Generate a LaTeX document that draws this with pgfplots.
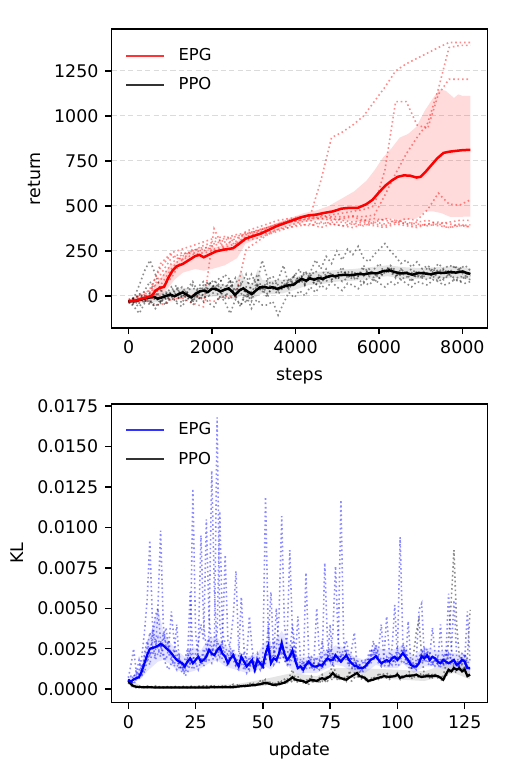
\documentclass[border=0pt]{standalone}
\usepackage{pgfplots}
\pgfplotsset{compat=1.18}
\usepackage{pgfplotstable}
\usepackage{fontspec}
\setmainfont{DejaVu Sans}

\newcommand{\lblfont}{\fontsize{8.7}{10.4}\selectfont}
\newcommand{\legfont}{\fontsize{8.2}{9.8}\selectfont}

% ---------- top: return, EPG seeds ----------
\pgfplotstableread{
x r1 r2 r3 r4 r5 r6 r7 r8
0 -30 -40 -20 -30 -30 -30 -20 -40
256 -15 -20 0 10 -10 -20 0 -30
512 10 40 -30 30 -40 -10 20 0
768 120 160 60 90 -50 0 180 40
1024 210 230 150 180 -20 -20 240 100
1280 240 200 220 230 -10 -10 260 200
1536 235 260 250 250 -40 10 280 230
1792 260 250 280 270 -60 -20 300 240
2048 290 280 300 260 374 -30 320 250
2304 310 300 320 280 250 0 330 270
2560 330 290 340 320 270 -5 300 290
2816 345 330 350 340 320 260 360 310
3072 365 350 360 360 340 300 380 320
3328 380 370 380 380 350 340 400 340
3584 400 390 400 400 370 360 420 370
3840 420 410 410 420 380 380 430 390
4096 440 420 420 430 400 390 440 410
4352 445 430 430 440 390 400 440 420
4608 640 440 430 430 410 380 450 400
4864 880 450 440 420 400 400 430 410
5120 910 460 440 430 390 390 420 410
5376 950 470 445 440 400 380 410 400
5632 1000 480 440 420 410 400 420 390
5888 1080 500 450 430 400 390 410 410
6144 1160 700 560 420 390 380 430 400
6400 1250 1080 680 410 410 400 420 420
6656 1290 1080 790 430 400 390 400 410
6912 1320 950 880 420 390 380 410 400
7168 1350 930 960 480 400 400 420 390
7424 1380 1120 1150 571 410 390 400 400
7680 1408 1204 1380 510 400 380 410 380
7936 1408 1204 1392 505 390 400 420 390
8192 1408 1204 1392 534 385 380 420 395
}\redseeds

% ---------- top: return, PPO seeds ----------
\pgfplotstableread{
x g1 g2 g3 g4 g5 g6
0 -30 -30 -30 -30 -30 -30
128 -10 -50 -60 -20 -40 -10
256 60 -20 -97 10 -60 -40
384 140 30 -40 -30 -20 0
512 198 80 -20 20 -50 -30
640 120 20 -70 -10 -10 -60
768 40 -30 -30 30 -40 -20
896 -20 10 -50 -20 20 -40
1024 30 50 0 0 -10 -10
1152 60 0 -40 40 -30 20
1280 -10 -40 -60 -10 30 50
1408 40 20 -10 20 0 10
1536 80 60 -50 -30 -40 -20
1664 20 -20 -20 10 50 30
1792 -30 10 10 50 80 60
1920 60 80 -40 0 30 80
2048 90 50 -60 20 60 40
2176 30 -10 0 60 100 70
2304 -20 40 -30 10 40 120
2432 50 90 -98 -20 80 90
2560 100 0 -20 30 30 -10
2688 20 -60 -50 70 60 40
2816 -40 50 10 20 120 20
2944 60 120 -70 -10 20 -30
3072 110 60 -20 40 70 60
3200 40 198 -50 60 30 20
3328 -10 100 -50 10 90 70
3456 70 40 -30 50 110 40
3584 30 90 -107 30 60 10
3712 90 170 -40 70 40 50
3840 40 60 20 40 90 80
3968 110 120 -10 80 60 110
4096 150 80 30 100 80 90
4224 60 140 0 60 130 70
4352 130 100 50 120 110 100
4480 200 60 20 90 140 60
4608 150 110 60 70 100 90
4736 220 150 40 110 120 80
4864 180 90 80 130 90 120
4992 250 120 50 90 110 100
5120 200 160 30 120 80 140
5248 260 100 70 140 100 120
5376 230 140 60 100 130 90
5504 276 110 40 130 90 110
5632 210 170 80 110 70 150
5760 190 120 60 150 110 130
5888 230 150 90 120 80 100
6016 260 180 70 100 100 120
6144 291 120 50 140 140 140
6272 250 160 80 130 160 170
6400 220 100 60 110 120 140
6528 180 150 90 150 90 110
6656 200 120 70 120 110 130
6784 160 90 50 130 80 150
6912 190 140 80 100 120 120
7040 150 110 70 140 100 100
7168 170 160 60 120 90 130
7296 140 130 90 110 110 150
7424 180 100 80 150 80 110
7552 150 150 60 130 100 90
7680 170 120 70 140 120 120
7808 160 170 90 120 90 100
7936 150 140 80 160 110 80
8064 170 110 70 130 100 110
8192 140 130 80 110 90 100
}\grayseeds

% ---------- bottom: KL ----------
\pgfplotstableread{
u b1 b2 b3 b4 b5 k1 k2 k3 mb mk
0 0.0006 0.0005 0.0007 0.0004 0.0006 0.0005 0.0006 0.0004 0.00058 0.0005
1 0.0004 0.0008 0.0015 0.0003 0.0005 0.0003 0.0004 0.0002 0.00047 0.0003
2 0.0009 0.0006 0.0025 0.0005 0.0003 0.0002 0.0002 0.0001 0.0006 0.00018
3 0.0005 0.0012 0.0010 0.0008 0.0006 0.0001 0.0002 0.0001 0.00068 0.00015
4 0.0012 0.0007 0.0018 0.0006 0.0009 0.0001 0.0001 0.0002 0.00074 0.00013
5 0.0020 0.0015 0.0010 0.0012 0.0008 0.0002 0.0001 0.0001 0.0011 0.00012
6 0.0035 0.0010 0.0022 0.0018 0.0014 0.0001 0.0002 0.0001 0.0016 0.00011
7 0.0055 0.0018 0.0030 0.0025 0.0020 0.0001 0.0001 0.0002 0.0021 0.00011
8 0.0092 0.0022 0.0020 0.0035 0.0015 0.0002 0.0001 0.0001 0.0025 0.00011
9 0.0040 0.0030 0.0035 0.0028 0.0025 0.0001 0.0002 0.0001 0.00254 0.00011
10 0.0030 0.0045 0.0028 0.0020 0.0018 0.0001 0.0001 0.0002 0.0026 0.0001
11 0.0025 0.0050 0.0032 0.0050 0.0022 0.0002 0.0001 0.0001 0.00268 0.0001
12 0.0020 0.0098 0.0025 0.0030 0.0028 0.0001 0.0002 0.0001 0.0028 0.0001
13 0.0035 0.0040 0.0030 0.0022 0.0020 0.0001 0.0001 0.0001 0.0027 0.0001
14 0.0028 0.0025 0.0038 0.0018 0.0015 0.0002 0.0001 0.0002 0.00254 0.0001
15 0.0022 0.0030 0.0025 0.0025 0.0012 0.0001 0.0002 0.0001 0.0024 0.0001
16 0.0018 0.0020 0.0048 0.0020 0.0016 0.0001 0.0001 0.0001 0.00223 0.0001
17 0.0015 0.0025 0.0030 0.0015 0.0022 0.0002 0.0001 0.0002 0.0020 0.0001
18 0.0020 0.0018 0.0022 0.0012 0.0040 0.0001 0.0002 0.0001 0.0018 0.0001
19 0.0012 0.0015 0.0018 0.0020 0.0015 0.0001 0.0001 0.0001 0.0017 0.0001
20 0.0016 0.0012 0.0015 0.0014 0.0010 0.0002 0.0001 0.0002 0.0016 0.0001
21 0.0010 0.0018 0.0012 0.0008 0.0014 0.0001 0.0002 0.0001 0.0014 0.0001
22 0.0014 0.0025 0.0020 0.0010 0.0018 0.0001 0.0001 0.0001 0.0017 0.0001
23 0.0020 0.0015 0.0025 0.0016 0.0060 0.0002 0.0001 0.0002 0.0019 0.0001
24 0.0124 0.0018 0.0015 0.0012 0.0020 0.0001 0.0002 0.0001 0.0016 0.0001
25 0.0035 0.0022 0.0018 0.0015 0.0016 0.0001 0.0001 0.0001 0.0018 0.0001
26 0.0020 0.0028 0.0022 0.0025 0.0012 0.0002 0.0001 0.0002 0.0020 0.0001
27 0.0015 0.0040 0.0018 0.0095 0.0018 0.0001 0.0002 0.0001 0.0017 0.0001
28 0.0022 0.0030 0.0025 0.0040 0.0014 0.0001 0.0001 0.0002 0.0018 0.0001
29 0.0018 0.0105 0.0020 0.0025 0.0020 0.0002 0.0001 0.0001 0.0020 0.0001
30 0.0025 0.0045 0.0035 0.0030 0.0018 0.0001 0.0002 0.0001 0.00243 0.0001
31 0.0020 0.0025 0.0135 0.0022 0.0016 0.0002 0.0001 0.0002 0.0022 0.00012
32 0.0030 0.0020 0.0060 0.0028 0.0022 0.0001 0.0002 0.0001 0.0021 0.00012
33 0.0168 0.0030 0.0025 0.0035 0.0018 0.0001 0.0001 0.0002 0.0024 0.00012
34 0.0040 0.0025 0.0020 0.0110 0.0024 0.0002 0.0002 0.0001 0.0026 0.00012
35 0.0025 0.0030 0.0028 0.0035 0.0018 0.0001 0.0001 0.0002 0.0022 0.00012
36 0.0020 0.0083 0.0022 0.0028 0.0016 0.0002 0.0002 0.0001 0.0020 0.00012
37 0.0015 0.0030 0.0018 0.0020 0.0014 0.0001 0.0001 0.0002 0.0016 0.00012
38 0.0022 0.0025 0.0030 0.0018 0.0020 0.0002 0.0002 0.0001 0.0019 0.00012
39 0.0018 0.0020 0.0045 0.0022 0.0025 0.0001 0.0003 0.0002 0.0021 0.00012
40 0.0014 0.0018 0.0073 0.0015 0.0018 0.0002 0.0001 0.0002 0.0017 0.00015
41 0.0012 0.0015 0.0025 0.0020 0.0014 0.0003 0.0002 0.0001 0.0014 0.00016
42 0.0020 0.0022 0.0018 0.0057 0.0016 0.0002 0.0003 0.0002 0.0020 0.00018
43 0.0015 0.0018 0.0022 0.0025 0.0012 0.0001 0.0002 0.0003 0.0017 0.00019
44 0.0010 0.0015 0.0018 0.0016 0.0020 0.0003 0.0002 0.0002 0.0014 0.0002
45 0.0014 0.0020 0.0015 0.0012 0.0045 0.0002 0.0004 0.0002 0.0016 0.00022
46 0.0018 0.0016 0.0020 0.0018 0.0025 0.0003 0.0002 0.0003 0.0018 0.00024
47 0.0010 0.0012 0.0014 0.0010 0.0015 0.0002 0.0003 0.0004 0.0012 0.00025
48 0.0016 0.0018 0.0020 0.0022 0.0018 0.0004 0.0003 0.0002 0.0018 0.00028
49 0.0012 0.0015 0.0016 0.0018 0.0014 0.0003 0.0005 0.0003 0.0016 0.0003
50 0.0020 0.0012 0.0014 0.0015 0.0012 0.0004 0.0003 0.0005 0.0014 0.00035
51 0.0119 0.0018 0.0020 0.0022 0.0016 0.0006 0.0004 0.0003 0.0022 0.0004
52 0.0035 0.0040 0.0022 0.0028 0.0030 0.0004 0.0003 0.0004 0.00268 0.00035
53 0.0020 0.0018 0.0025 0.0016 0.0060 0.0003 0.0005 0.0002 0.0016 0.0003
54 0.0015 0.0022 0.0030 0.0020 0.0022 0.0002 0.0003 0.0004 0.0019 0.00025
55 0.0018 0.0025 0.0016 0.0050 0.0018 0.0004 0.0002 0.0003 0.0018 0.00028
56 0.0022 0.0045 0.0020 0.0025 0.0016 0.0003 0.0004 0.0005 0.0022 0.0003
57 0.0025 0.0107 0.0028 0.0030 0.0022 0.0005 0.0003 0.0004 0.00285 0.00035
58 0.0018 0.0040 0.0022 0.0020 0.0018 0.0004 0.0006 0.0003 0.0022 0.0004
59 0.0015 0.0025 0.0030 0.0018 0.0016 0.0006 0.0004 0.0005 0.0018 0.0005
60 0.0020 0.0018 0.0086 0.0022 0.0014 0.0008 0.0005 0.0006 0.0020 0.0006
61 0.0030 0.0022 0.0035 0.0040 0.0020 0.0012 0.0007 0.0004 0.0024 0.00074
62 0.0018 0.0020 0.0022 0.0025 0.0016 0.0007 0.0005 0.0006 0.0018 0.0006
63 0.0012 0.0015 0.0018 0.0014 0.0045 0.0005 0.0008 0.0004 0.0013 0.00055
64 0.0014 0.0012 0.0016 0.0015 0.0018 0.0006 0.0004 0.0005 0.0014 0.00052
65 0.0010 0.0014 0.0012 0.0018 0.0014 0.0004 0.0006 0.0005 0.0012 0.0005
66 0.0072 0.0016 0.0015 0.0012 0.0016 0.0005 0.0003 0.0004 0.0015 0.0004
67 0.0022 0.0020 0.0018 0.0016 0.0014 0.0007 0.0005 0.0003 0.0017 0.0005
68 0.0015 0.0018 0.0014 0.0020 0.0012 0.0006 0.0008 0.0004 0.0015 0.00058
69 0.0012 0.0015 0.0016 0.0018 0.0016 0.0004 0.0005 0.0006 0.0014 0.00055
70 0.0014 0.0012 0.0020 0.0050 0.0014 0.0005 0.0006 0.0004 0.0014 0.0005
71 0.0016 0.0018 0.0014 0.0022 0.0012 0.0007 0.0004 0.0005 0.0015 0.0006
72 0.0012 0.0015 0.0030 0.0018 0.0016 0.0009 0.0006 0.0005 0.00145 0.00068
73 0.0018 0.0078 0.0020 0.0015 0.0014 0.0006 0.0008 0.0004 0.0017 0.0006
74 0.0022 0.0030 0.0025 0.0020 0.0018 0.0008 0.0005 0.0007 0.0019 0.0007
75 0.0016 0.0020 0.0018 0.0025 0.0040 0.0010 0.0007 0.0006 0.0018 0.0008
76 0.0020 0.0018 0.0035 0.0022 0.0016 0.0016 0.0008 0.0006 0.0018 0.0010
77 0.0018 0.0022 0.0076 0.0020 0.0018 0.0010 0.0006 0.0008 0.0021 0.0008
78 0.0025 0.0018 0.0030 0.0016 0.0020 0.0007 0.0009 0.0005 0.0019 0.00075
79 0.0117 0.0020 0.0018 0.0022 0.0016 0.0006 0.0007 0.0007 0.0017 0.00068
80 0.0030 0.0025 0.0022 0.0018 0.0020 0.0008 0.0005 0.0006 0.0019 0.00062
81 0.0020 0.0030 0.0025 0.0022 0.0018 0.0005 0.0007 0.0006 0.0021 0.00058
82 0.0016 0.0022 0.0020 0.0015 0.0014 0.0009 0.0010 0.0006 0.0018 0.0007
83 0.0014 0.0018 0.0016 0.0020 0.0025 0.0012 0.0008 0.0005 0.0016 0.0008
84 0.0012 0.0015 0.0014 0.0018 0.0035 0.0018 0.0010 0.0007 0.00145 0.0009
85 0.0014 0.0016 0.0018 0.0012 0.0014 0.0014 0.0009 0.0008 0.0014 0.0010
86 0.0012 0.0014 0.0015 0.0016 0.0012 0.0010 0.0007 0.0007 0.0013 0.0008
87 0.0010 0.0012 0.0014 0.0018 0.0016 0.0008 0.0006 0.0007 0.0013 0.00075
88 0.0015 0.0014 0.0012 0.0016 0.0018 0.0006 0.0008 0.0006 0.0014 0.00068
89 0.0018 0.0016 0.0020 0.0014 0.0015 0.0005 0.0006 0.0004 0.0016 0.0005
90 0.0020 0.0022 0.0025 0.0018 0.0016 0.0007 0.0005 0.0006 0.0018 0.00055
91 0.0022 0.0025 0.0020 0.0030 0.0018 0.0006 0.0007 0.0005 0.0019 0.00058
92 0.0025 0.0020 0.0028 0.0022 0.0020 0.0008 0.0006 0.0007 0.00204 0.00065
93 0.0018 0.0016 0.0022 0.0020 0.0025 0.0009 0.0008 0.0006 0.0018 0.0007
94 0.0015 0.0014 0.0018 0.0016 0.0040 0.0007 0.0010 0.0007 0.0016 0.00075
95 0.0016 0.0020 0.0016 0.0014 0.0018 0.0008 0.0009 0.0008 0.0017 0.0008
96 0.0018 0.0045 0.0020 0.0016 0.0015 0.0010 0.0007 0.0007 0.0018 0.00078
97 0.0015 0.0022 0.0018 0.0020 0.0014 0.0008 0.0008 0.0006 0.0017 0.00075
98 0.0020 0.0018 0.0015 0.0025 0.0022 0.0009 0.0007 0.0008 0.0019 0.00078
99 0.0018 0.0016 0.0020 0.0052 0.0016 0.0008 0.0009 0.0007 0.0020 0.0008
100 0.0022 0.0020 0.0025 0.0018 0.0014 0.0010 0.0008 0.0009 0.0018 0.0009
101 0.0094 0.0022 0.0018 0.0020 0.0016 0.0007 0.0006 0.0008 0.0020 0.0007
102 0.0030 0.0025 0.0022 0.0028 0.0018 0.0008 0.0009 0.0007 0.00223 0.00075
103 0.0020 0.0018 0.0025 0.0020 0.0015 0.0009 0.0007 0.0008 0.0020 0.0008
104 0.0016 0.0014 0.0018 0.0016 0.0042 0.0008 0.0010 0.0009 0.0018 0.00082
105 0.0014 0.0012 0.0015 0.0018 0.0016 0.0010 0.0012 0.0006 0.0015 0.00083
106 0.0012 0.0015 0.0014 0.0016 0.0014 0.0007 0.0022 0.0008 0.0014 0.00085
107 0.0015 0.0018 0.0016 0.0014 0.0012 0.0009 0.0035 0.0009 0.0014 0.0009
108 0.0018 0.0049 0.0020 0.0016 0.0018 0.0008 0.0043 0.0007 0.0016 0.0008
109 0.0020 0.0053 0.0022 0.0025 0.0016 0.0010 0.0020 0.0008 0.00204 0.00075
110 0.0022 0.0020 0.0025 0.0018 0.0020 0.0008 0.0009 0.0007 0.0019 0.00078
111 0.0018 0.0025 0.0022 0.0020 0.0016 0.0009 0.0008 0.0009 0.0021 0.0008
112 0.0016 0.0018 0.0020 0.0022 0.0015 0.0007 0.0010 0.0008 0.0018 0.0008
113 0.0014 0.0016 0.0038 0.0020 0.0018 0.0009 0.0008 0.0007 0.0020 0.0008
114 0.0018 0.0020 0.0022 0.0016 0.0014 0.0008 0.0009 0.0009 0.0019 0.00082
115 0.0016 0.0014 0.0018 0.0020 0.0015 0.0009 0.0007 0.0008 0.0017 0.0008
116 0.0014 0.0015 0.0016 0.0018 0.0040 0.0007 0.0008 0.0006 0.0016 0.0007
117 0.0015 0.0018 0.0020 0.0016 0.0014 0.0008 0.0006 0.0005 0.0018 0.00058
118 0.0020 0.0016 0.0022 0.0025 0.0018 0.0015 0.0010 0.0008 0.0017 0.0009
119 0.0059 0.0022 0.0018 0.0020 0.0015 0.0030 0.0012 0.0010 0.0016 0.0012
120 0.0025 0.0018 0.0020 0.0022 0.0016 0.0055 0.0011 0.0012 0.0017 0.0011
121 0.0018 0.0016 0.0015 0.0055 0.0014 0.0086 0.0014 0.0010 0.0018 0.0013
122 0.0014 0.0015 0.0018 0.0020 0.0012 0.0040 0.0012 0.0011 0.0015 0.0012
123 0.0016 0.0018 0.0014 0.0016 0.0015 0.0020 0.0014 0.0012 0.0016 0.0013
124 0.0020 0.0022 0.0016 0.0018 0.0020 0.0015 0.0010 0.0013 0.0018 0.0011
125 0.0015 0.0020 0.0018 0.0022 0.0016 0.0012 0.0014 0.0011 0.0017 0.0012
126 0.0012 0.0014 0.0048 0.0016 0.0014 0.0020 0.0008 0.0009 0.0013 0.0008
127 0.0014 0.0012 0.0016 0.0018 0.0012 0.0049 0.0010 0.0008 0.0013 0.0009
}\kltable

\pgfplotsset{
  base/.style={
    scale only axis, width=188pt, height=149.4pt,
    axis line style={line width=0.7pt, black},
    tick pos=left, tick align=outside, major tick length=3pt,
    major tick style={line width=0.7pt, black},
    tick label style={font=\lblfont},
    label style={font=\lblfont},
    /pgf/number format/assume math mode=true,
    legend style={draw=none, fill=none, font=\legfont,
      at={(axis description cs:0.037,0.937)}, anchor=north west,
      row sep=7pt, inner sep=0pt, outer sep=0pt,
      nodes={inner sep=0pt}},
    legend cell align=left,
    legend image code/.code={\draw[##1] (0pt,0pt) -- (19pt,0pt); \path (25.6pt,0pt);},
  },
  rseed/.style={red, opacity=0.45, line width=0.8pt, dash pattern=on 0.8pt off 1.4pt, forget plot},
  gseed/.style={black, opacity=0.45, line width=0.8pt, dash pattern=on 0.8pt off 1.4pt, forget plot},
  bseed/.style={blue, opacity=0.45, line width=0.8pt, dash pattern=on 0.8pt off 1.4pt, forget plot},
}

\begin{document}
\begin{tikzpicture}
\path[use as bounding box] (0,0) rectangle (263pt,391.5pt);

% ================= TOP =================
\begin{axis}[base,
  at={(55.75pt,227.5pt)}, anchor=south west,
  xmin=-410, xmax=8602, ymin=-178, ymax=1482,
  xtick={0,2000,4000,6000,8000},
  ytick={0,250,500,750,1000,1250},
  /pgf/number format/set thousands separator={},
  ymajorgrids,
  grid style={dash pattern=on 2.6pt off 1.6pt, line width=0.5pt, black!14},
  xlabel={steps}, ylabel={return},
]
\addlegendimage{red, line width=1pt, opacity=0.8}
\addlegendentry{EPG}
\addlegendimage{black, line width=1pt, opacity=0.8}
\addlegendentry{PPO}

\foreach \c in {r1,r2,r3,r4,r5,r6,r7,r8}{
  \addplot[rseed] table[x=x, y=\c] {\redseeds};
}
\foreach \c in {g1,g2,g3,g4,g5,g6}{
  \addplot[gseed] table[x=x, y=\c] {\grayseeds};
}

% red band
\addplot[fill=red, fill opacity=0.14, draw=none, forget plot] coordinates {
(0,-20) (500,10) (700,80) (1000,170) (1300,215) (1600,250) (1800,250) (2000,270)
(2300,280) (2600,300) (2800,345) (3000,360) (3300,385) (3600,410) (3900,435)
(4200,460) (4500,475) (4800,500) (5100,540) (5400,580) (5700,640) (5900,700)
(6100,770) (6300,820) (6500,880) (6700,900) (6900,940) (7100,1030) (7300,1100)
(7450,1148) (7600,1140) (7800,1100) (7900,1120) (8000,1112) (8192,1112)
(8192,441) (8000,440) (7700,440) (7500,460) (7300,470) (7100,470) (6900,430)
(6600,420) (6300,430) (6000,420) (5700,410) (5400,415) (5100,420) (4800,420)
(4500,420) (4200,410) (3900,395) (3600,370) (3300,340) (3000,310) (2800,290)
(2600,210) (2300,170) (2000,150) (1800,140) (1600,150) (1300,130) (1100,90)
(900,30) (700,-10) (500,-25) (0,-40)
};
% gray band
\addplot[fill=black, fill opacity=0.1, draw=none, forget plot] coordinates {
(0,-20) (400,5) (700,15) (1000,30) (1300,45) (1600,40) (1900,60) (2200,65)
(2500,55) (2700,140) (2800,90) (2950,60) (3100,150) (3200,90) (3400,85)
(3700,90) (4000,105) (4300,130) (4600,135) (5000,145) (5400,150) (5800,160)
(6200,170) (6600,160) (7000,155) (7400,160) (7800,165) (8192,155)
(8192,90) (7800,100) (7400,95) (7000,95) (6600,95) (6200,110) (5800,95)
(5400,85) (5000,80) (4600,65) (4300,60) (4000,35) (3700,15) (3400,10)
(3200,15) (2950,-20) (2700,0) (2500,-20) (2200,0) (1900,-5) (1600,-25)
(1300,-10) (1000,-15) (700,-35) (400,-35) (0,-40)
};

% PPO mean
\addplot[black, line width=1.25pt, forget plot] coordinates {
(0,-30) (150,-28) (300,-20) (450,-10) (600,-5) (700,-15) (800,-8) (900,0)
(1000,8) (1100,-2) (1200,10) (1300,20) (1400,5) (1500,-8) (1600,10) (1700,25)
(1800,30) (1900,22) (2000,40) (2100,38) (2200,25) (2300,35) (2400,42) (2500,20)
(2550,5) (2650,30) (2750,42) (2850,25) (2950,10) (3050,30) (3150,48) (3250,50)
(3350,45) (3450,48) (3550,40) (3650,45) (3750,55) (3850,60) (3950,62) (4050,80)
(4150,95) (4250,85) (4350,98) (4450,90) (4550,100) (4650,95) (4750,105)
(4850,112) (4950,110) (5050,115) (5200,118) (5350,115) (5500,122) (5650,120)
(5800,128) (5950,125) (6100,138) (6250,142) (6350,135) (6500,125) (6650,128)
(6800,118) (6950,128) (7100,125) (7250,120) (7400,130) (7550,128) (7700,132)
(7850,130) (8000,136) (8100,128) (8192,122)
};
% EPG mean
\addplot[red, line width=1.25pt, forget plot] coordinates {
(0,-30) (200,-25) (400,-10) (550,0) (650,30) (750,45) (850,50) (950,100)
(1050,140) (1150,165) (1300,178) (1450,200) (1600,222) (1700,228) (1800,215)
(1950,232) (2100,248) (2300,258) (2500,265) (2650,290) (2800,318) (2950,330)
(3150,345) (3350,366) (3550,388) (3750,405) (3950,422) (4150,438) (4300,447)
(4500,452) (4700,462) (4900,470) (5100,485) (5300,490) (5500,490) (5700,510)
(5850,535) (6000,575) (6150,612) (6300,640) (6450,662) (6600,670) (6750,668)
(6900,658) (7000,662) (7100,685) (7250,725) (7400,765) (7550,795) (7700,802)
(7850,806) (8000,810) (8192,812)
};
\end{axis}

% ================= BOTTOM =================
\begin{axis}[base,
  at={(55.6pt,40.15pt)}, anchor=south west,
  xmin=-6.35, xmax=133.35, ymin=-0.00084, ymax=0.01764,
  xtick={0,25,50,75,100,125},
  ytick={0,0.0025,0.005,0.0075,0.01,0.0125,0.015,0.0175},
  scaled y ticks=false,
  yticklabel style={/pgf/number format/.cd, fixed, fixed zerofill, precision=4},
  xlabel={update}, ylabel={KL},
]
\addlegendimage{blue, line width=1pt, opacity=0.8}
\addlegendentry{EPG}
\addlegendimage{black, line width=1pt, opacity=0.8}
\addlegendentry{PPO}

\foreach \c in {k1,k2,k3}{
  \addplot[gseed] table[x=u, y=\c] {\kltable};
}
\foreach \c in {b1,b2,b3,b4,b5}{
  \addplot[bseed] table[x=u, y=\c] {\kltable};
}

% blue band
\addplot[fill=blue, fill opacity=0.1, draw=none, forget plot] coordinates {
(0,0.0007) (3,0.0009) (5,0.0016) (7,0.0030) (9,0.0038) (11,0.0050) (13,0.0036)
(15,0.0030) (18,0.0024) (21,0.0020) (24,0.0026) (27,0.0024) (30,0.0032)
(33,0.0032) (36,0.0027) (40,0.0022) (44,0.0020) (48,0.0022) (51,0.0030)
(53,0.0026) (57,0.0036) (60,0.0028) (63,0.0020) (66,0.0020) (70,0.0020)
(74,0.0024) (77,0.0027) (80,0.0026) (84,0.0020) (88,0.0018) (92,0.0026)
(96,0.0024) (100,0.0025) (102,0.0028) (106,0.0020) (110,0.0026) (114,0.0024)
(118,0.0023) (122,0.0022) (125,0.0022) (127,0.0018)
(127,0.0009) (125,0.0012) (122,0.0011) (118,0.0012) (114,0.0014) (110,0.0014)
(106,0.0010) (102,0.0016) (100,0.0013) (96,0.0013) (92,0.0015) (88,0.0010)
(84,0.0010) (80,0.0014) (77,0.0015) (74,0.0013) (70,0.0010) (66,0.0010)
(63,0.0009) (60,0.0013) (57,0.0020) (53,0.0012) (51,0.0014) (48,0.0012)
(44,0.0010) (40,0.0012) (36,0.0014) (33,0.0018) (30,0.0016) (27,0.0013)
(24,0.0011) (21,0.0010) (18,0.0012) (15,0.0016) (13,0.0018) (11,0.0017)
(9,0.0014) (7,0.0011) (5,0.0007) (3,0.0005) (0,0.0005)
};
% gray band
\addplot[fill=black, fill opacity=0.1, draw=none, forget plot] coordinates {
(0,0.0006) (5,0.0002) (20,0.0002) (40,0.0003) (50,0.0006) (61,0.0010)
(70,0.0008) (76,0.0013) (85,0.0013) (100,0.0012) (110,0.0011) (119,0.0016)
(121,0.0017) (127,0.0013)
(127,0.0006) (121,0.0010) (119,0.0009) (110,0.0005) (100,0.0006) (85,0.0007)
(76,0.0007) (70,0.0004) (61,0.0005) (50,0.0002) (40,0.0001) (20,0.00005)
(5,0.00005) (0,0.0004)
};

\addplot[black, line width=1.1pt, forget plot] table[x=u, y=mk] {\kltable};
\addplot[blue, line width=1.1pt, forget plot] table[x=u, y=mb] {\kltable};
\end{axis}
\end{tikzpicture}
\end{document}
